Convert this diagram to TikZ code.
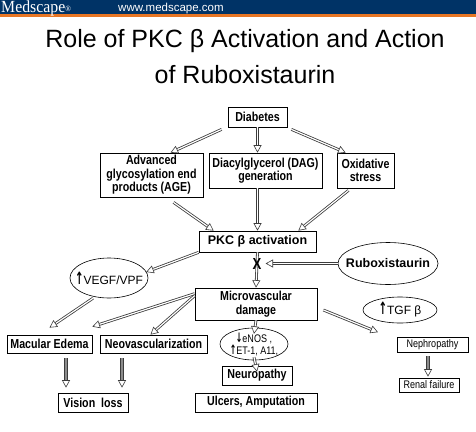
\documentclass[tikz,border=0pt]{standalone}
\usepackage{fontspec}
\setmainfont{Liberation Sans}
\newfontfamily\narrowfont{Liberation Sans}[FakeStretch=0.82]
\newfontfamily\logofont{Liberation Serif}[FakeStretch=0.93]
\newfontfamily\symfont{DejaVu Sans}[FakeStretch=0.6]
\usetikzlibrary{arrows.meta,shadows}
\definecolor{navy}{RGB}{0,51,102}
\definecolor{bandorange}{RGB}{232,118,36}
\definecolor{shaft}{RGB}{140,140,140}
\definecolor{edge}{RGB}{60,60,60}
\newcommand{\upbig}{{\symfont\bfseries\fontsize{17}{14}\selectfont ↑}}
\newcommand{\upsmall}{{\symfont\bfseries\fontsize{13}{12}\selectfont ↑}}
\newcommand{\downsmall}{{\symfont\bfseries\fontsize{13}{12}\selectfont ↓}}

\begin{document}
\begin{tikzpicture}[x=1pt, y=-1pt,
  box/.style   = {rectangle, draw=black, line width=0.7pt, fill=white, inner sep=1pt,
                  drop shadow={shadow xshift=1.2pt, shadow yshift=-1.2pt, opacity=1, fill=gray!70},
                  align=center, font=\narrowfont\bfseries\fontsize{13}{13.5}\selectfont},
  thin/.style  = {font=\narrowfont\fontsize{11}{12}\selectfont},
  wide/.style  = {font=\bfseries\fontsize{12.5}{14}\selectfont},
  oval/.style  = {rectangle, inner sep=0pt, align=center},
  ring/.style  = {draw=black, line width=0.6pt},
  plain/.style = {font=\fontsize{12}{14}\selectfont},
  arr/.style   = {draw=white, line width=1.2pt,
                  preaction={draw=edge, line width=2.8pt, -, shorten >=5pt},
                  -{Triangle[color=edge, fill=white, length=7.5pt, width=8pt, line width=0.6pt]}},
  heavy/.style = {arr, draw=shaft, line width=2pt,
                  preaction={draw=edge, line width=3.4pt, -, shorten >=5pt}}
]
  % ---- canvas and header ----
  \fill[white] (0,0) rectangle (476,431);
  \useasboundingbox (0,0) rectangle (476,431);
  \fill[navy] (0,0) rectangle (476,14);
  \fill[bandorange] (0,14) rectangle (476,16.5);
  \node[anchor=base west, inner sep=0pt, text=white, font=\logofont\fontsize{17}{17}\selectfont]
    (logo) at (1,12.5) {Medscape{\fontsize{8}{8}\selectfont\raisebox{0.2ex}{®}}};
  \node[anchor=base west, inner sep=0pt, text=white, font=\fontsize{11.5}{12}\selectfont]
    (url) at (118,11.5) {www.medscape.com};

  % ---- title ----
  \node[align=center, inner sep=0pt, anchor=base, font=\fontsize{25}{36}\selectfont]
    (title) at (245,83) {Role of PKC β Activation and Action\\of Ruboxistaurin};

  % ---- causes ----
  \node[box, minimum width=59pt,  minimum height=20pt] (diab) at (257.5,117)   {Diabetes};
  \node[box, minimum width=103pt, minimum height=44pt] (age)  at (151.5,175)   {Advanced\\glycosylation end\\products (AGE)};
  \node[box, minimum width=113pt, minimum height=35pt] (dag)  at (265.5,170.5) {Diacylglycerol (DAG)\\generation};
  \node[box, minimum width=57pt,  minimum height=35pt] (oxid) at (365.5,170.5) {Oxidative\\stress};

  % ---- PKC and inhibitor ----
  \node[box, wide, minimum width=117pt, minimum height=21pt] (pkc)  at (257.5,241.5) {PKC β activation};
  \node[oval, wide, minimum width=100pt, minimum height=42pt] (rubo) at (388,263.5)   {Ruboxistaurin};
  \node[oval, plain, minimum width=78pt, minimum height=40pt] (vegf) at (109,278)     {\upbig VEGF/VPF};
  \draw[ring] (rubo.center) ellipse [x radius=50pt, y radius=21pt];
  \draw[ring] (vegf.center) ellipse [x radius=39pt, y radius=20pt];

  % ---- damage ----
  \node[box, minimum width=122pt, minimum height=32pt] (micro) at (256,304) {Microvascular\\damage};
  \node[oval, plain, minimum width=74pt, minimum height=26pt] (tgf) at (400,310) {\upbig TGF β};
  \draw[ring] (tgf.center) ellipse [x radius=37pt, y radius=13pt];

  % ---- outcomes ----
  \node[box, minimum width=85pt,  minimum height=18pt] (mac)    at (49.5,344)  {Macular Edema};
  \node[box, minimum width=107pt, minimum height=18pt] (neo)    at (153.5,344) {Neovascularization};
  \node[oval, thin, minimum width=68pt, minimum height=32pt] (enos) at (254,344)
    {\downsmall eNOS ,\\\upsmall ET-1, A11,};
  \draw[ring] (enos.center) ellipse [x radius=34pt, y radius=16pt];
  \node[box, minimum width=70pt,  minimum height=19pt] (neuro)  at (257,375.5) {Neuropathy};
  \node[box, minimum width=122pt, minimum height=19pt] (ulcer)  at (256,402.5) {Ulcers, Amputation};
  \node[box, minimum width=70pt,  minimum height=19pt] (vision) at (93,402.5)  {Vision\ \ loss};
  \node[box, thin, minimum width=71pt, minimum height=15pt] (neph)  at (432.5,344.5) {Nephropathy};
  \node[box, thin, minimum width=60pt, minimum height=14pt] (renal) at (429,385)    {Renal failure};

  % ---- Arrows: into PKC ----
  \draw[arr] ([shift={(-6pt,-2pt)}]diab.south west) -- ([xshift=19pt]age.north);
  \draw[arr] (diab.south) -- (diab.south |- dag.north);
  \draw[arr] ([shift={(4pt,-2pt)}]diab.south east) -- ([xshift=9pt]oxid.north west);
  \draw[arr] ([shift={(22pt,-5pt)}]age.south) -- ([xshift=15pt]pkc.north west);
  \draw[arr] (dag.south -| pkc.north) -- (pkc.north);
  \draw[arr] ([shift={(-17pt,-2pt)}]oxid.south) -- ([xshift=-18pt]pkc.north east);

  % ---- Arrows: from PKC ----
  \draw[arr] (pkc.south west) -- ([shift={(-2pt,6pt)}]vegf.east);
  \draw[arr] (pkc.south) -- (micro.north);
  \node[inner sep=0pt, font=\narrowfont\bfseries\fontsize{16}{16}\selectfont] (xmark) at (257,263.5) {X};
  \coordinate (block) at ([xshift=4pt]xmark.east);
  \draw[arr] (rubo.west) -- (block);

  % ---- Arrows: to outcomes ----
  \draw[arr] ([xshift=-16pt]vegf.south) -- ([yshift=7pt]mac.north);
  \draw[arr] ([yshift=-6pt]micro.north west) -- ([yshift=8pt]mac.north east);
  \draw[arr] ([yshift=-8pt]micro.north west) -- ([xshift=-3pt]neo.north);
  \draw[arr] ([shift={(6pt,-6pt)}]micro.east) -- ([shift={(-22pt,-9pt)}]tgf.south);
  \draw[arr] (micro.south) -- ([yshift=-6pt]enos.north);
  \draw[arr] ([yshift=3pt]enos.south) -- ([yshift=-6pt]neuro.north);
  \draw[heavy] ([shift={(16.5pt,-5pt)}]mac.south) -- ([shift={(16.5pt,5pt)}]mac.south |- vision.north);
  \draw[heavy] ([shift={(-31.5pt,-5pt)}]neo.south) -- ([shift={(-31.5pt,5pt)}]neo.south |- vision.north);
  \draw[heavy] ([shift={(-4.5pt,-4pt)}]neph.south) -- ([shift={(-4.5pt,1pt)}]neph.south |- renal.north);
\end{tikzpicture}
\end{document}
